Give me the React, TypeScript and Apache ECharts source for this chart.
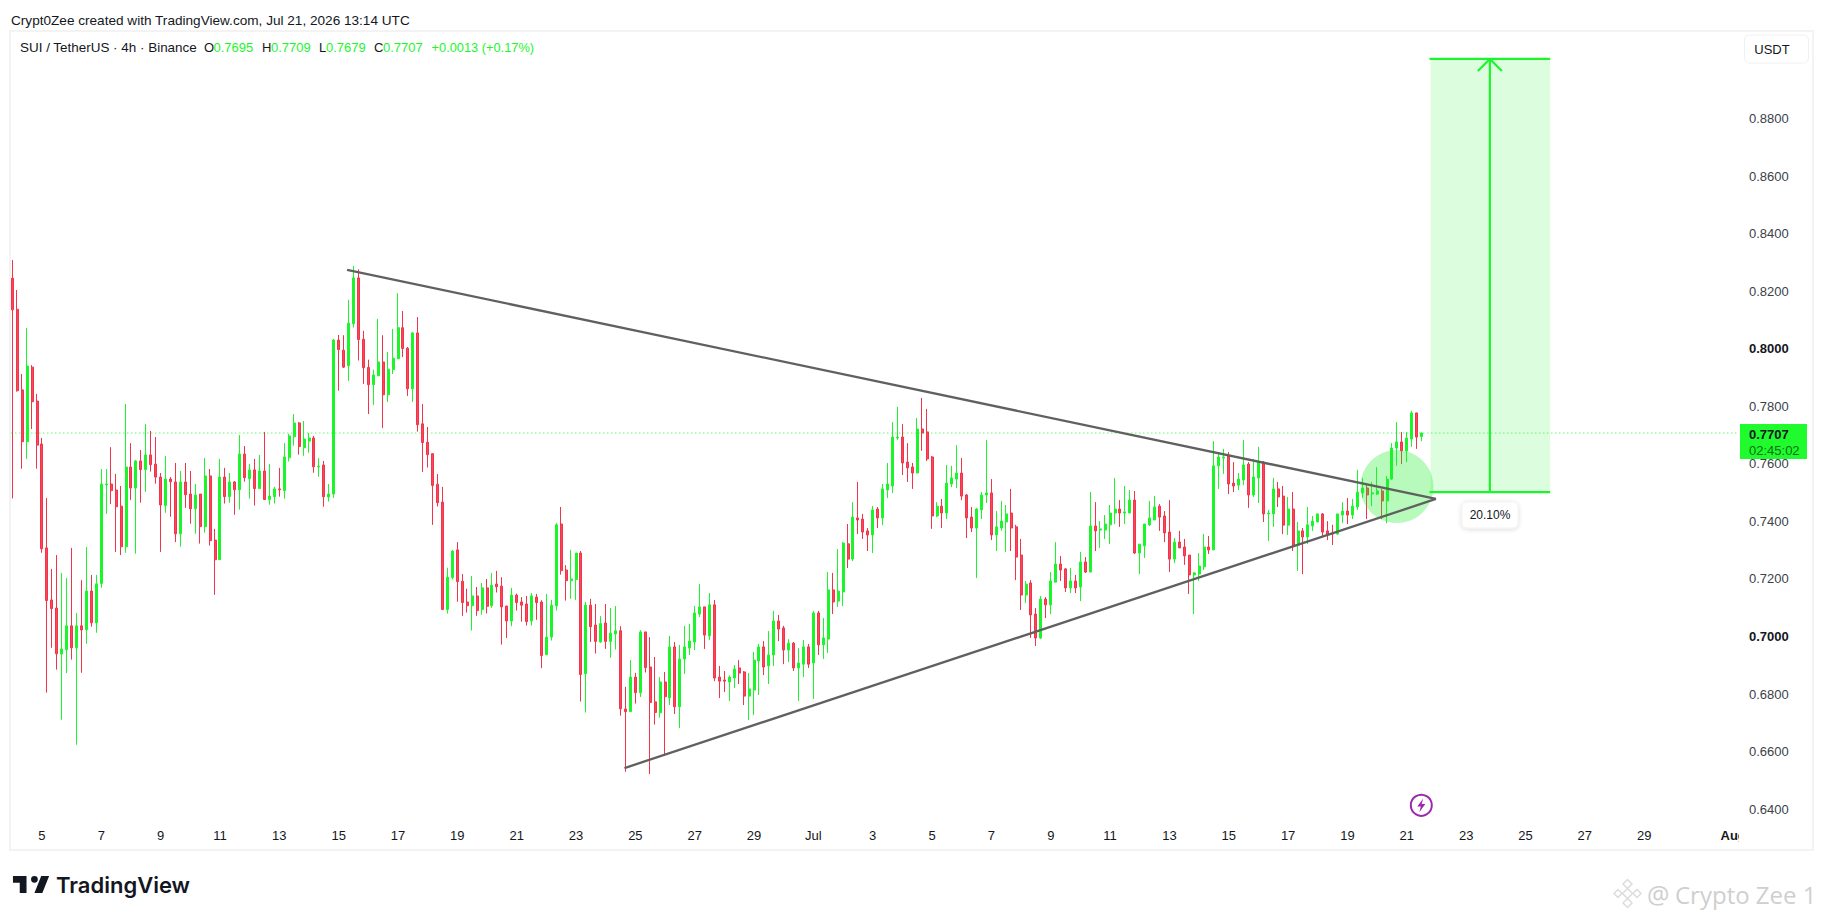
import React, { useEffect, useRef } from "react";
import * as echarts from "echarts";

const opens = [
.8245,.8137,.7857,.7677,.7936,.7818,.7669,.7308,.7127,.7099,
.6939,.6954,.7037,.6961,.7037,.7024,.7158,.7048,.7184,.7527,
.7530,.7509,.7453,.7312,.7589,.7516,.7610,.7580,.7631,.7599,
.7554,.7455,.7547,.7537,.7357,.7537,.7495,.7444,.7495,.7382,
.7558,.7335,.7267,.7554,.7486,.7537,.7510,.7634,.7548,.7579,
.7514,.7575,.7476,.7486,.7513,.7507,.7621,.7694,.7742,.7656,
.7679,.7690,.7589,.7596,.7485,.7495,.8030,.7995,.7941,.8087,
.8246,.8033,.7935,.7875,.7906,.7954,.7840,.7928,.7965,.8073,
.8002,.7861,.8055,.7739,.7675,.7635,.7529,.7467,.7094,.7205,
.7301,.7192,.7120,.7107,.7141,.7094,.7169,.7107,.7182,.7175,
.7106,.7054,.7144,.7120,.7113,.7054,.7137,.7120,.6937,.6998,
.7107,.7391,.7231,.7194,.7198,.7290,.6871,.7109,.7040,.6981,
.7047,.6983,.7009,.7020,.6748,.6739,.6859,.6805,.7016,.6894,
.6773,.6735,.6842,.6787,.6964,.6756,.6922,.6960,.6981,.7078,
.7103,.7002,.7110,.6859,.6849,.6842,.6856,.6891,.6877,.6793,
.6814,.6915,.6964,.6898,.6936,.7054,.7030,.6953,.6977,.6891,
.6904,.6964,.6908,.7082,.6971,.6991,.7162,.7123,.7155,.7322,
.7269,.7412,.7408,.7367,.7353,.7443,.7412,.7509,.7523,.7690,
.7693,.7606,.7589,.7568,.7721,.7711,.7624,.7419,.7453,.7429,
.7530,.7547,.7568,.7492,.7415,.7377,.7440,.7492,.7499,.7353,
.7377,.7398,.7429,.7381,.7283,.7144,.7186,.7078,.6995,.7130,
.7110,.7189,.7252,.7235,.7169,.7193,.7172,.7259,.7224,.7384,
.7370,.7370,.7388,.7429,.7443,.7429,.7429,.7474,.7290,.7315,
.7388,.7405,.7453,.7419,.7363,.7269,.7328,.7311,.7283,.7214,
.7217,.7242,.7311,.7301,.7593,.7620,.7627,.7533,.7526,.7544,
.7599,.7492,.7551,.7606,.7426,.7426,.7513,.7488,.7387,.7443,
.7318,.7367,.7346,.7384,.7398,.7426,.7367,.7360,.7356,.7422,
.7436,.7422,.7450,.7499,.7516,.7495,.7495,.7506,.7471,.7547,
.7655,.7676,.7645,.7686,.7777,.7695,
];
const closes = [
.8135,.7854,.7677,.7940,.7816,.7665,.7305,.7125,.7097,.6940,
.6957,.7037,.6961,.7037,.7023,.7158,.7048,.7183,.7530,.7530,
.7507,.7451,.7312,.7589,.7516,.7610,.7580,.7631,.7597,.7554,
.7457,.7547,.7538,.7357,.7537,.7493,.7444,.7492,.7382,.7558,
.7333,.7267,.7554,.7486,.7537,.7510,.7634,.7552,.7579,.7514,
.7575,.7476,.7488,.7513,.7510,.7624,.7697,.7742,.7660,.7686,
.7690,.7590,.7592,.7486,.7495,.8030,.7997,.7936,.8089,.8246,
.8032,.7934,.7875,.7909,.7954,.7840,.7929,.7967,.8073,.8001,
.7861,.8055,.7736,.7674,.7632,.7525,.7465,.7094,.7206,.7297,
.7191,.7118,.7107,.7141,.7090,.7169,.7105,.7178,.7173,.7103,
.7054,.7144,.7118,.7109,.7052,.7141,.7118,.6934,.6998,.7109,
.7388,.7229,.7194,.7200,.7290,.6868,.7109,.7034,.6983,.7045,
.6983,.7012,.7020,.6749,.6739,.6859,.6805,.7016,.6892,.6771,
.6736,.6842,.6791,.6964,.6756,.6922,.6964,.6984,.7082,.7103,
.7005,.7110,.6856,.6845,.6845,.6859,.6887,.6873,.6793,.6818,
.6918,.6964,.6894,.6936,.7054,.7026,.6953,.6977,.6891,.6908,
.6964,.6904,.7082,.6971,.6995,.7162,.7120,.7158,.7325,.7269,
.7415,.7405,.7363,.7353,.7440,.7412,.7513,.7530,.7693,.7693,
.7603,.7586,.7568,.7721,.7707,.7617,.7419,.7453,.7429,.7533,
.7551,.7568,.7488,.7412,.7377,.7443,.7492,.7499,.7353,.7381,
.7401,.7426,.7377,.7276,.7144,.7182,.7075,.6995,.7130,.7110,
.7193,.7252,.7231,.7169,.7193,.7169,.7259,.7224,.7384,.7367,
.7374,.7391,.7429,.7443,.7429,.7433,.7474,.7290,.7321,.7391,
.7412,.7450,.7415,.7360,.7269,.7328,.7308,.7280,.7214,.7221,
.7245,.7311,.7301,.7593,.7624,.7624,.7530,.7523,.7547,.7596,
.7492,.7554,.7606,.7426,.7429,.7513,.7485,.7387,.7443,.7318,
.7367,.7346,.7388,.7401,.7426,.7363,.7353,.7356,.7426,.7436,
.7422,.7453,.7502,.7516,.7492,.7499,.7506,.7471,.7547,.7655,
.7676,.7645,.7690,.7777,.7693,.7707,
];
const highs = [
.8308,.8204,.7912,.8072,.7943,.7843,.7690,.7481,.7235,.7283,
.7221,.7203,.7308,.7082,.7196,.7311,.7214,.7214,.7582,.7582,
.7658,.7565,.7523,.7808,.7672,.7613,.7648,.7738,.7714,.7693,
.7568,.7627,.7554,.7603,.7575,.7603,.7575,.7530,.7495,.7620,
.7582,.7374,.7617,.7586,.7568,.7540,.7700,.7662,.7599,.7617,
.7631,.7711,.7599,.7520,.7586,.7672,.7704,.7773,.7745,.7749,
.7707,.7697,.7620,.7610,.7530,.8034,.8048,.8047,.8170,.8288,
.8276,.8062,.7962,.7927,.8104,.8047,.7989,.8069,.8193,.8131,
.8006,.8058,.8110,.7808,.7728,.7637,.7565,.7520,.7239,.7300,
.7328,.7217,.7166,.7210,.7172,.7186,.7200,.7221,.7228,.7206,
.7106,.7169,.7149,.7137,.7141,.7151,.7148,.7126,.7148,.7127,
.7394,.7450,.7248,.7301,.7290,.7297,.7120,.7131,.7113,.7071,
.7113,.7099,.7106,.7036,.6825,.6918,.6874,.7022,.7016,.6998,
.6929,.6859,.6877,.7002,.6981,.6971,.7037,.7044,.7106,.7182,
.7103,.7151,.7127,.6898,.6880,.6865,.6901,.6918,.6880,.6873,
.6946,.6974,.6984,.7019,.7089,.7075,.7037,.6991,.6981,.6960,
.6988,.6974,.7089,.7089,.7064,.7224,.7221,.7304,.7328,.7391,
.7467,.7537,.7426,.7377,.7454,.7450,.7530,.7603,.7745,.7798,
.7738,.7672,.7603,.7759,.7829,.7791,.7627,.7467,.7478,.7596,
.7593,.7665,.7620,.7495,.7450,.7447,.7502,.7683,.7547,.7436,
.7471,.7457,.7513,.7388,.7339,.7193,.7196,.7099,.7141,.7137,
.7224,.7328,.7280,.7238,.7238,.7214,.7294,.7276,.7502,.7467,
.7401,.7422,.7457,.7551,.7474,.7523,.7509,.7506,.7321,.7391,
.7471,.7488,.7460,.7436,.7474,.7342,.7367,.7339,.7283,.7224,
.7290,.7356,.7349,.7679,.7638,.7652,.7641,.7606,.7568,.7683,
.7606,.7617,.7659,.7610,.7440,.7551,.7537,.7523,.7485,.7502,
.7398,.7377,.7450,.7419,.7426,.7429,.7401,.7388,.7426,.7467,
.7481,.7478,.7579,.7551,.7527,.7537,.7589,.7513,.7558,.7672,
.7745,.7711,.7711,.7784,.7777,.7709,
];
const lows = [
.7480,.7851,.7583,.7617,.7721,.7583,.7291,.6805,.6961,.6885,
.6711,.6873,.6920,.6624,.6874,.6975,.7034,.7013,.7170,.7426,
.7460,.7294,.7283,.7291,.7474,.7288,.7465,.7503,.7573,.7531,
.7294,.7430,.7416,.7328,.7312,.7447,.7392,.7357,.7323,.7361,
.7316,.7145,.7267,.7462,.7465,.7423,.7441,.7538,.7479,.7455,
.7514,.7476,.7458,.7462,.7486,.7479,.7608,.7663,.7632,.7628,
.7639,.7569,.7555,.7451,.7469,.7482,.7854,.7933,.7888,.8074,
.7959,.7878,.7773,.7805,.7906,.7724,.7815,.7912,.7964,.7971,
.7836,.7815,.7712,.7572,.7587,.7388,.7452,.7094,.7080,.7198,
.7121,.7072,.7083,.7021,.7072,.7076,.7080,.7100,.7153,.6972,
.6995,.7036,.7090,.7052,.7038,.7038,.7058,.6890,.6937,.6986,
.7090,.7215,.7125,.7131,.7127,.6774,.6736,.6981,.6941,.6978,
.6957,.6926,.6955,.6725,.6530,.6739,.6767,.6790,.6875,.6522,
.6694,.6718,.6586,.6762,.6731,.6682,.6870,.6936,.6953,.7068,
.6957,.6988,.6845,.6786,.6807,.6776,.6821,.6835,.6762,.6710,
.6727,.6797,.6866,.6835,.6898,.6984,.6904,.6911,.6880,.6776,
.6859,.6891,.6783,.6936,.6922,.6943,.7078,.7103,.7106,.7238,
.7262,.7356,.7339,.7297,.7290,.7377,.7387,.7481,.7499,.7683,
.7561,.7537,.7513,.7568,.7645,.7610,.7374,.7415,.7377,.7408,
.7519,.7516,.7474,.7342,.7363,.7203,.7408,.7464,.7335,.7297,
.7367,.7294,.7297,.7196,.7092,.7116,.6995,.6967,.6991,.7064,
.7078,.7189,.7193,.7155,.7151,.7151,.7123,.7221,.7224,.7297,
.7308,.7339,.7321,.7391,.7381,.7391,.7429,.7287,.7217,.7273,
.7384,.7405,.7367,.7328,.7224,.7255,.7308,.7249,.7148,.7078,
.7193,.7231,.7287,.7301,.7513,.7565,.7495,.7502,.7509,.7526,
.7447,.7485,.7464,.7398,.7332,.7381,.7450,.7356,.7353,.7297,
.7228,.7217,.7321,.7367,.7398,.7346,.7335,.7318,.7353,.7394,
.7391,.7408,.7440,.7481,.7408,.7453,.7492,.7408,.7394,.7544,
.7593,.7599,.7606,.7659,.7652,.7679,
];

const priceLine = [[-0.2, 0.7707], [349.1, 0.7707]];
const priceTicks = [0.64, 0.66, 0.68, 0.70, 0.72, 0.74, 0.76, 0.78, 0.80, 0.82, 0.84, 0.86, 0.88];
const boldPrices = [0.70, 0.80];
const trendUpper = [[67.7, 0.8274], [287.9, 0.7478]];
const trendLower = [[123.8, 0.6543], [287.9, 0.7478]];
const targetBox = { from: 286.8, to: 311, bottom: 0.7502, top: 0.9007, arrowAt: 298.8 };
const breakoutCircle = { at: 280, price: 0.7521 };
const axisFont = '"Liberation Sans"';
const GREEN = "#1cf52c";

const MONTH_LABEL: Record<string, string> = { "6-1": "Jun", "7-1": "Jul", "8-1": "Aug" };
const categories: string[] = [];
const tickLabels: Record<string, string> = {};
for (let i = 0; i < 350; i++) {
  const d = new Date(Date.UTC(2026, 5, 4) + i * 4 * 3600 * 1000);
  const m = d.getUTCMonth() + 1, day = d.getUTCDate(), h = d.getUTCHours();
  const key = `${m}/${day} ${h}:00`;
  categories.push(key);
  if (h === 0) {
    const lbl = MONTH_LABEL[`${m}-${day}`];
    if (lbl) tickLabels[key] = lbl;
    else if (day % 2 === 1 && day <= 29) tickLabels[key] = String(day);
  }
}

export default function App() {
  const ref = useRef<HTMLDivElement>(null);
  useEffect(() => {
    if (!ref.current) return;
    const chart = echarts.init(ref.current, undefined, { renderer: "svg" });
    echarts.graphic.registerShape(
      "tvlogo",
      echarts.graphic.extendPath(
        "M14 6H2v6h6v9h6V6zm14 15h-7l6-15h7l-6 15zm-7-9a3 3 0 1 0 0-6 3 3 0 0 0 0 6z",
        {}
      )
    );
    const txt = (text: string, x: number, y: number, fill: string, extra: any = {}, size = 13) => ({
      type: "text", x, y, z: 60, silent: true,
      style: { text, fill, fontFamily: axisFont, fontSize: size, verticalAlign: "middle", ...extra },
    });
    const diamond = (cx: number, cy: number, r: number) => ({
      type: "polygon", z: 60, silent: true,
      shape: { points: [[cx, cy - r], [cx + r, cy], [cx, cy + r], [cx - r, cy]] },
      style: { fill: "none", stroke: "#dcdcdc", lineWidth: 1.5 },
    });
    chart.setOption({
      animation: false,
      backgroundColor: "#ffffff",
      grid: { left: 9.83, top: 32.14, width: 1730.75, height: 791.45, containLabel: false },
      xAxis: [
        {
          type: "category", data: categories, boundaryGap: true,
          axisLine: { show: false }, axisTick: { show: false }, splitLine: { show: false },
          axisLabel: {
            interval: (_i: number, v: string) => v in tickLabels,
            formatter: (v: string) => (tickLabels[v] === "Aug" ? `{b|Aug}` : tickLabels[v] ?? ""),
            fontFamily: axisFont, fontSize: 13, color: "#131722", margin: 5,
            rich: { b: { fontWeight: "bold", fontFamily: axisFont, fontSize: 13, color: "#131722" } },
          },
        },
        { type: "value", min: -0.5, max: 349.5, show: false },
      ],
      yAxis: {
        type: "value", position: "right", min: 0.635, max: 0.91, scale: true,
        axisLine: { show: false }, axisTick: { show: false }, splitLine: { show: false },
        axisLabel: {
          customValues: priceTicks, margin: 8.4, fontFamily: axisFont, fontSize: 13, color: "#3b3f4a",
          formatter: (v: number) =>
            boldPrices.some((b) => Math.abs(b - v) < 1e-6) ? `{b|${v.toFixed(4)}}` : v.toFixed(4),
          rich: { b: { fontWeight: "bold", fontFamily: axisFont, fontSize: 13, color: "#131722" } },
        },
      },
      series: [
        {
          type: "custom", xAxisIndex: 1, z: 1, silent: true, clip: false,
          data: [[targetBox.from, targetBox.bottom]],
          renderItem: (_p: any, api: any) => {
            const a = api.coord([targetBox.from, targetBox.top]);
            const b = api.coord([targetBox.to, targetBox.bottom]);
            const ax = api.coord([targetBox.arrowAt, targetBox.top])[0];
            const ln = { stroke: GREEN, lineWidth: 2.2 };
            const line = (x1: number, y1: number, x2: number, y2: number) => ({
              type: "line", shape: { x1, y1, x2, y2 }, style: ln,
            });
            return {
              type: "group",
              children: [
                { type: "rect", shape: { x: a[0], y: a[1], width: b[0] - a[0], height: b[1] - a[1] }, style: { fill: "#ddfddf" } },
                line(a[0] - 1, a[1], b[0], a[1]),
                line(a[0] - 1, b[1], b[0], b[1]),
                line(ax, b[1], ax, a[1]),
                line(ax, a[1], ax - 12, a[1] + 12),
                line(ax, a[1], ax + 12, a[1] + 12),
              ],
            };
          },
        },
        {
          type: "line", xAxisIndex: 1, z: 2, silent: true, symbol: "none", data: priceLine,
          lineStyle: { color: GREEN, type: [1, 3], width: 1 },
        },
        {
          type: "candlestick", xAxisIndex: 0, z: 2, barWidth: 2.5,
          data: opens.map((o, i) => [o, closes[i], lows[i], highs[i]]),
          itemStyle: { color: GREEN, color0: "#f9475b", borderColor: GREEN, borderColor0: "#f23349", borderWidth: 1 },
        },
        {
          type: "custom", xAxisIndex: 1, z: 3, silent: true, clip: false,
          data: [[breakoutCircle.at, breakoutCircle.price]],
          renderItem: (_p: any, api: any) => {
            const c = api.coord([api.value(0), api.value(1)]);
            return { type: "circle", shape: { cx: c[0], cy: c[1], r: 36.5 }, style: { fill: "rgba(30,240,45,0.32)" } };
          },
        },
        {
          type: "line", xAxisIndex: 1, z: 4, silent: true, symbol: "none", data: trendUpper,
          lineStyle: { color: "#606060", width: 2.3 },
        },
        {
          type: "line", xAxisIndex: 1, z: 4, silent: true, symbol: "none", data: trendLower,
          lineStyle: { color: "#606060", width: 2.3 },
        },
      ],
      graphic: [
        { type: "rect", z: 55, silent: true, shape: { x: 10, y: 31, width: 1803, height: 819 }, style: { fill: "none", stroke: "#f3f3f3", lineWidth: 2 } },
        { type: "rect", z: 56, silent: true, shape: { x: 1739, y: 826, width: 12, height: 20 }, style: { fill: "#ffffff" } },
        txt("Crypt0Zee created with TradingView.com, Jul 21, 2026 13:14 UTC", 11, 20.5, "#131722", {}, 13.6),
        txt("SUI / TetherUS · 4h · Binance", 20, 47, "#131722", {}, 13.45),
        txt("O", 204, 47, "#131722"), txt("0.7695", 213.5, 47, GREEN),
        txt("H", 262, 47, "#131722"), txt("0.7709", 271, 47, GREEN),
        txt("L", 319, 47, "#131722"), txt("0.7679", 326, 47, GREEN),
        txt("C", 374, 47, "#131722"), txt("0.7707", 383, 47, GREEN),
        txt("+0.0013 (+0.17%)", 431.6, 47, GREEN, {}, 12.8),
        { type: "rect", z: 58, silent: true, shape: { x: 1744.5, y: 35, width: 64, height: 28, r: 5 }, style: { fill: "#fff", stroke: "#f0f0f0", lineWidth: 1 } },
        txt("USDT", 1754.3, 49, "#131722"),
        { type: "rect", z: 58, silent: true, shape: { x: 1740, y: 424, width: 67, height: 35 }, style: { fill: "#1ffb2c" } },
        txt("0.7707", 1749, 434, "#131722", { fontWeight: "bold" }),
        txt("02:45:02", 1749, 450.7, "#0f6f1a"),
        { type: "rect", z: 58, silent: true, shape: { x: 1462, y: 502, width: 56, height: 26, r: 5 }, style: { fill: "#fff", stroke: "#f2f2f2", lineWidth: 1, shadowBlur: 5, shadowColor: "rgba(0,0,0,0.14)", shadowOffsetY: 1 } },
        txt("20.10%", 1490, 515, "#131722", { textAlign: "center" }, 12),
        { type: "circle", z: 58, silent: true, shape: { cx: 1421.3, cy: 805.3, r: 10.5 }, style: { fill: "#fff", stroke: "#9c27b0", lineWidth: 2 } },
        { type: "polygon", z: 59, silent: true, shape: { points: [[1423.2, 798.5], [1417.3, 806.6], [1420.8, 806.6], [1419.4, 812.3], [1425.3, 804], [1421.6, 804]] }, style: { fill: "#9c27b0" } },
        { type: "tvlogo", z: 60, silent: true, x: 10.7, y: 869.2, scaleX: 1.13, scaleY: 1.13, style: { fill: "#131722" } },
        txt("TradingView", 56, 885, "#131722", { fontFamily: "Inter", fontWeight: 600 }, 22),
        diamond(1627.5, 884, 4.5), diamond(1627.5, 903, 4.5), diamond(1618, 893.5, 4), diamond(1637, 893.5, 4), diamond(1627.5, 893.5, 5),
        txt("@", 1647, 894, "#cfcfcf", { fontFamily: "Open Sans" }, 25),
        txt("Crypto Zee 1", 1675, 894, "#cfcfcf", { fontFamily: "Open Sans" }, 24),
      ],
    });
    return () => chart.dispose();
  }, []);
  return <div ref={ref} style={{ position: "absolute", left: 0, top: 0, width: 1824, height: 919 }} />;
}
